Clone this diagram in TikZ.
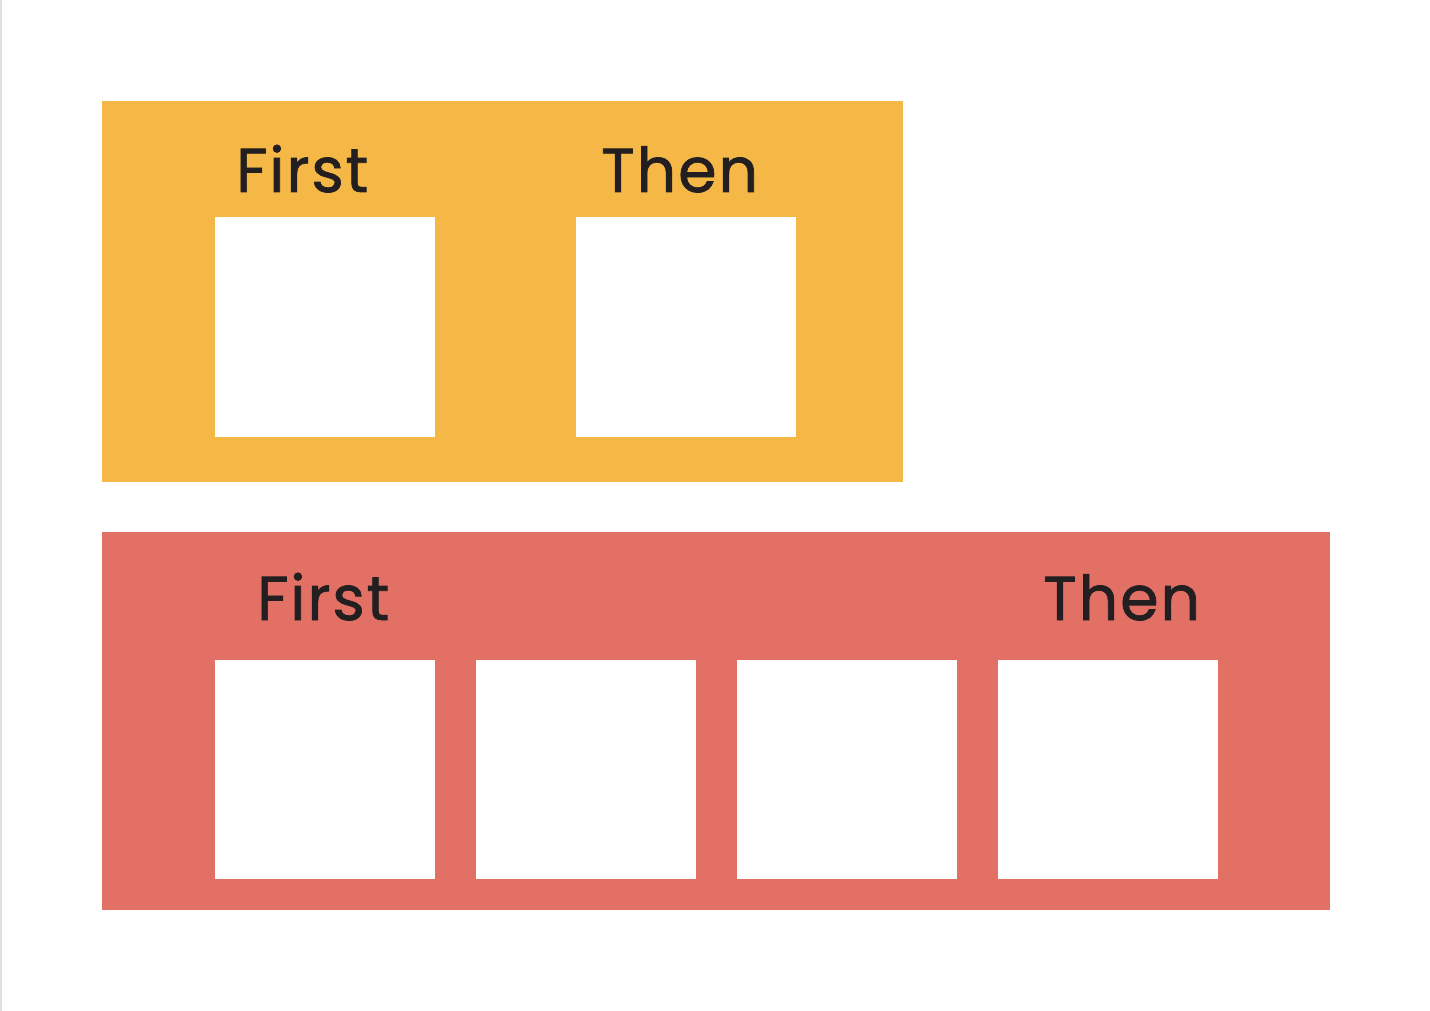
\documentclass[tikz,border=0pt]{standalone}
\usepackage{fontspec}
\setmainfont{Poppins}
\definecolor{orangebg}{HTML}{F5B847}
\definecolor{redbg}{HTML}{E27064}
\definecolor{ink}{HTML}{231F20}
\begin{document}
\begin{tikzpicture}[x=1pt,y=-1pt,
  card/.style={fill=white, draw=none},
  lbl/.style={inner sep=0, anchor=base west, text=ink, font=\fontsize{62}{68}\selectfont\addfontfeatures{LetterSpace=3,FakeBold=1.2}}]
\useasboundingbox (0,0) rectangle (1430,1011);
\fill[white] (0,0) rectangle (1430,1011);
\draw[black!12, line width=1.5] (0.75,0) -- (0.75,1011);
% orange panel
\fill[orangebg] (102,101) rectangle (903,482);
\fill[card] (215,217) rectangle (435,437);
\fill[card] (576,217) rectangle (796,437);
\node[lbl] (f1) at (236,192) {First};
\node[lbl] (t1) at (601,192) {Then};
% red panel
\fill[redbg] (102,532) rectangle (1330,910);
\fill[card] (215,660) rectangle (435,879);
\fill[card] (476,660) rectangle (696,879);
\fill[card] (737,660) rectangle (957,879);
\fill[card] (998,660) rectangle (1218,879);
\node[lbl] (f2) at (257,620) {First};
\node[lbl] (t2) at (1043,620) {Then};
\end{tikzpicture}
\end{document}
